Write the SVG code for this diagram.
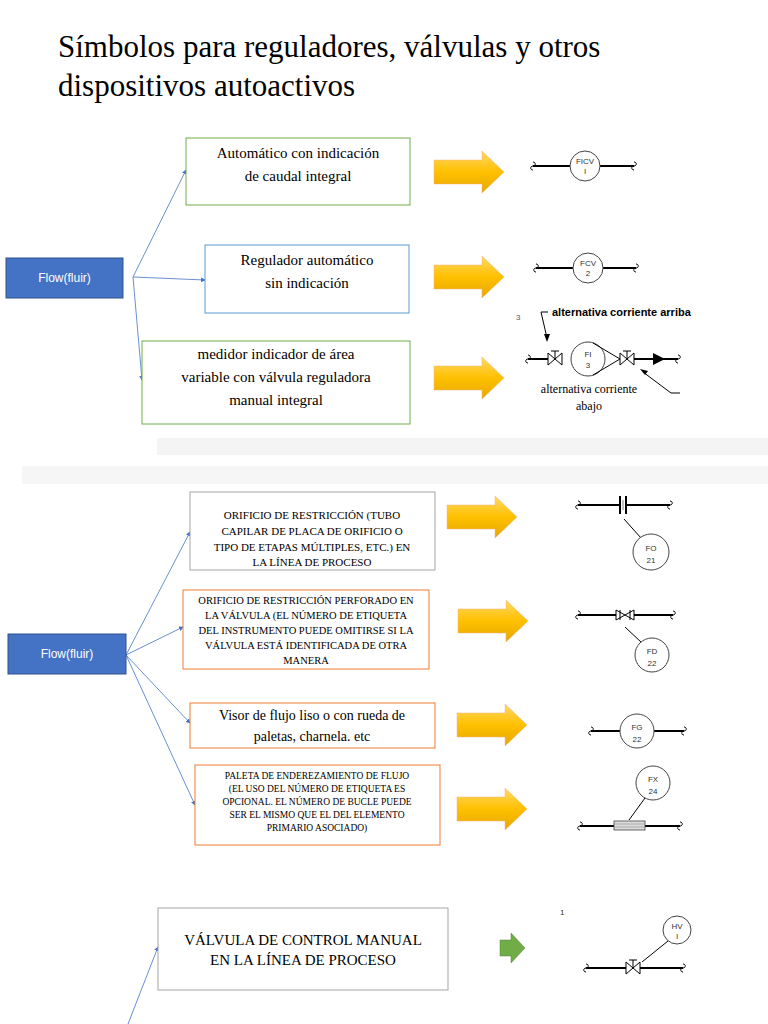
<svg xmlns="http://www.w3.org/2000/svg" width="768" height="1024" viewBox="0 0 768 1024">
<style>
.t{font-family:"Liberation Serif","Times New Roman",serif;fill:#000}
.s{font-family:"Liberation Sans",sans-serif}
.flow{fill:#4472C4;stroke:#2F528F;stroke-width:1}
.ft{font-family:"Liberation Sans",sans-serif;font-size:12px;fill:#fff}
.g{fill:#fff;stroke:#70AD47;stroke-width:1}
.b{fill:#fff;stroke:#5B9BD5;stroke-width:1}
.o{fill:#fff;stroke:#ED7D31;stroke-width:1}
.gr{fill:#fff;stroke:#A5A5A5;stroke-width:1}
.c{stroke:#4472C4;stroke-width:0.8;fill:none;marker-end:url(#ah)}
.p{stroke:#000;stroke-width:2;fill:none}
.pt{stroke:#000;stroke-width:1;fill:none}
.ci{fill:#fff;stroke:#444;stroke-width:1}
.ct{font-family:"Liberation Sans",sans-serif;font-size:8px;fill:#333}
</style>
<defs>
<marker id="ah" markerWidth="6" markerHeight="6" refX="5" refY="3" orient="auto"><path d="M0,0 L6,3 L0,6 z" fill="#4472C4"/></marker>
<linearGradient id="yg" x1="0" y1="0" x2="0" y2="1"><stop offset="0" stop-color="#FFD966"/><stop offset="0.5" stop-color="#FFC000"/><stop offset="1" stop-color="#E6A800"/></linearGradient>
<path id="ya" d="M0,-12 L48,-12 L48,-21 L70,0 L48,21 L48,12 L0,12 z" fill="url(#yg)" stroke="#F4B183" stroke-width="0.5"/>
<path id="sq" d="M0,-4 C3,-4 3,0 0,0 C-3,0 -3,4 0,4" fill="none" stroke="#000" stroke-width="1"/>
</defs>
<rect width="768" height="1024" fill="#fff"/>
<text class="t" x="58" y="57" font-size="31">Símbolos para reguladores, válvulas y otros</text>
<text class="t" x="58" y="96" font-size="31">dispositivos autoactivos</text>
<rect x="157" y="438" width="611" height="17" fill="#f4f4f4"/>
<rect x="22" y="466" width="746" height="18" fill="#f6f6f6"/>

<g id="connectors">
<line class="c" x1="133" y1="277" x2="186" y2="170"/>
<line class="c" x1="133" y1="277" x2="205" y2="280"/>
<line class="c" x1="133" y1="277" x2="142" y2="380"/>
<line class="c" x1="126" y1="655" x2="190" y2="532"/>
<line class="c" x1="126" y1="655" x2="183" y2="627"/>
<line class="c" x1="126" y1="655" x2="190" y2="723"/>
<line class="c" x1="126" y1="655" x2="195" y2="805"/>
<line class="c" x1="128" y1="1024" x2="158" y2="947"/>
</g>

<g id="flow1"><rect class="flow" x="6" y="258" width="117" height="40"/><text class="ft" x="64.5" y="282" text-anchor="middle">Flow(fluir)</text></g>
<g id="boxA"><rect class="g" x="186" y="138" width="224" height="67"/>
<text class="t" font-size="15" text-anchor="middle"><tspan x="298" y="158">Automático con indicación</tspan><tspan x="298" y="181">de caudal integral</tspan></text></g>
<g id="boxB"><rect class="b" x="205" y="245" width="204" height="68"/>
<text class="t" font-size="15" text-anchor="middle"><tspan x="307" y="265">Regulador automático</tspan><tspan x="307" y="288">sin indicación</tspan></text></g>
<g id="boxC"><rect class="g" x="142" y="341" width="268" height="83"/>
<text class="t" font-size="15" text-anchor="middle"><tspan x="276" y="359">medidor indicador de área</tspan><tspan x="276" y="382">variable con válvula reguladora</tspan><tspan x="276" y="405">manual integral</tspan></text></g>

<g id="arrows1">
<use href="#ya" x="434" y="172"/>
<use href="#ya" x="434" y="277"/>
<use href="#ya" x="434" y="378"/>
</g>

<g id="sym1">
<use href="#sq" x="533" y="166"/><line class="p" x1="533" y1="166" x2="570" y2="166"/><line class="p" x1="600" y1="166" x2="634" y2="166"/><use href="#sq" x="634" y="166"/>
<circle class="ci" cx="585" cy="166" r="15"/><text class="ct" x="585" y="164" text-anchor="middle">FICV</text><text class="ct" x="585" y="174" text-anchor="middle">I</text>
</g>
<g id="sym2">
<use href="#sq" x="536" y="268"/><line class="p" x1="536" y1="268" x2="573" y2="268"/><line class="p" x1="603" y1="268" x2="636" y2="268"/><use href="#sq" x="636" y="268"/>
<circle class="ci" cx="588" cy="268" r="15"/><text class="ct" x="588" y="266" text-anchor="middle">FCV</text><text class="ct" x="588" y="276" text-anchor="middle">2</text>
</g>
<g id="sym3">
<text class="s" x="516" y="320" font-size="8" fill="#555">3</text>
<text class="s" x="552" y="316" font-size="11" font-weight="bold">alternativa corriente arriba</text>
<path class="pt" d="M548,312 L541,312 L547,338"/><path d="M544,334 L547,342 L550,334 z"/>
<use href="#sq" x="528" y="359"/><line class="p" x1="528" y1="359" x2="548" y2="359"/>
<path class="pt" d="M548,353 L548,365 L562,353 L562,365 z M555,359 L555,351 M551,351 L559,351"/>
<circle class="ci" cx="588" cy="359" r="17"/><text class="ct" x="588" y="357" text-anchor="middle">FI</text><text class="ct" x="588" y="368" text-anchor="middle">3</text>
<path class="pt" d="M593,343 L620,359 L593,375"/>
<path class="pt" d="M620,353 L620,365 L634,353 L634,365 z M627,359 L627,351 M623,351 L631,351"/>
<line class="p" x1="634" y1="359" x2="678" y2="359"/><path d="M653,353 L665,359 L653,365 z"/><use href="#sq" x="678" y="359"/>
<path class="pt" d="M680,393 L671,393 L643,372"/><path d="M640,369 L648,371 L645,375 z"/>
<text class="t" x="589" y="393" font-size="12" text-anchor="middle" fill="#333">alternativa corriente</text>
<text class="t" x="589" y="410" font-size="12" text-anchor="middle" fill="#333">abajo</text>
</g>

<g id="flow2"><rect class="flow" x="8" y="634" width="118" height="40"/><text class="ft" x="67" y="658" text-anchor="middle">Flow(fluir)</text></g>
<g id="boxD1"><rect class="gr" x="190" y="492" width="245" height="78"/>
<text class="t" font-size="11" text-anchor="middle"><tspan x="312" y="519">ORIFICIO DE RESTRICCIÓN (TUBO</tspan><tspan x="312" y="535">CAPILAR DE PLACA DE ORIFICIO O</tspan><tspan x="312" y="551">TIPO DE ETAPAS MÚLTIPLES, ETC.) EN</tspan><tspan x="312" y="566">LA LÍNEA DE PROCESO</tspan></text></g>
<g id="boxD2"><rect class="o" x="183" y="590" width="246" height="79"/>
<text class="t" font-size="10.5" text-anchor="middle"><tspan x="306" y="604">ORIFICIO DE RESTRICCIÓN PERFORADO EN</tspan><tspan x="306" y="619">LA VÁLVULA (EL NÚMERO DE ETIQUETA</tspan><tspan x="306" y="634">DEL INSTRUMENTO PUEDE OMITIRSE SI LA</tspan><tspan x="306" y="649">VÁLVULA ESTÁ IDENTIFICADA DE OTRA</tspan><tspan x="306" y="664">MANERA</tspan></text></g>
<g id="boxD3"><rect class="o" x="190" y="703" width="245" height="45"/>
<text class="t" font-size="14" text-anchor="middle"><tspan x="312" y="720">Visor de flujo liso o con rueda de</tspan><tspan x="312" y="741">paletas, charnela. etc</tspan></text></g>
<g id="boxD4"><rect class="o" x="195" y="765" width="245" height="80"/>
<text class="t" font-size="9.5" text-anchor="middle"><tspan x="317" y="779">PALETA DE ENDEREZAMIENTO DE FLUJO</tspan><tspan x="317" y="792">(EL USO DEL NÚMERO DE ETIQUETA ES</tspan><tspan x="317" y="805">OPCIONAL. EL NÚMERO DE BUCLE PUEDE</tspan><tspan x="317" y="818">SER EL MISMO QUE EL DEL ELEMENTO</tspan><tspan x="317" y="831">PRIMARIO ASOCIADO)</tspan></text></g>

<g id="arrows2">
<use href="#ya" x="447" y="517"/>
<use href="#ya" x="458" y="621"/>
<use href="#ya" x="457" y="725"/>
<use href="#ya" x="457" y="809"/>
</g>

<g id="symFO">
<use href="#sq" x="578" y="505"/><line class="p" x1="578" y1="505" x2="620" y2="505"/><line class="p" x1="626" y1="505" x2="670" y2="505"/><use href="#sq" x="670" y="505"/>
<line x1="620" y1="496" x2="620" y2="514" stroke="#000" stroke-width="2"/><line x1="626" y1="496" x2="626" y2="514" stroke="#000" stroke-width="2"/><line x1="623" y1="500" x2="623" y2="510" stroke="#888" stroke-width="1"/>
<line class="pt" x1="624" y1="519" x2="641" y2="538"/>
<circle class="ci" cx="651" cy="552" r="18"/><text class="ct" x="651" y="551" text-anchor="middle" font-size="10">FO</text><text class="ct" x="651" y="563" text-anchor="middle" font-size="10">21</text>
</g>
<g id="symFD">
<use href="#sq" x="578" y="615"/><line class="p" x1="578" y1="615" x2="616" y2="615"/><line class="p" x1="634" y1="615" x2="673" y2="615"/><use href="#sq" x="673" y="615"/>
<path class="pt" d="M616,610 L616,620 L625,615 z M634,610 L634,620 L625,615 z M620,610 L620,620 M630,610 L630,620"/>
<line class="pt" x1="625" y1="627" x2="642" y2="643"/>
<circle class="ci" cx="652" cy="655" r="17"/><text class="ct" x="652" y="654" text-anchor="middle" font-size="10">FD</text><text class="ct" x="652" y="666" text-anchor="middle" font-size="10">22</text>
</g>
<g id="symFG">
<use href="#sq" x="591" y="731"/><line class="p" x1="591" y1="731" x2="620" y2="731"/><line class="p" x1="654" y1="731" x2="684" y2="731"/><use href="#sq" x="684" y="731"/>
<circle class="ci" cx="637" cy="731" r="17"/><text class="ct" x="637" y="730" text-anchor="middle" font-size="10">FG</text><text class="ct" x="637" y="742" text-anchor="middle" font-size="10">22</text>
</g>
<g id="symFX">
<circle class="ci" cx="653" cy="783" r="17"/><text class="ct" x="653" y="782" text-anchor="middle" font-size="10">FX</text><text class="ct" x="653" y="794" text-anchor="middle" font-size="10">24</text>
<line class="pt" x1="645" y1="798" x2="629" y2="820"/>
<use href="#sq" x="580" y="826"/><line class="p" x1="580" y1="826" x2="680" y2="826"/><use href="#sq" x="680" y="826"/>
<rect x="614" y="821" width="31" height="9" fill="#ddd" stroke="#444" stroke-width="0.8"/><line x1="614" y1="824" x2="645" y2="824" stroke="#888" stroke-width="0.6"/><line x1="614" y1="827" x2="645" y2="827" stroke="#888" stroke-width="0.6"/>
</g>

<g id="boxE"><rect class="gr" x="158" y="908" width="290" height="82"/>
<text class="t" font-size="15" text-anchor="middle"><tspan x="303" y="945">VÁLVULA DE CONTROL MANUAL</tspan><tspan x="303" y="965">EN LA LÍNEA DE PROCESO</tspan></text></g>
<g id="arrowE"><path d="M500,940 L511,940 L511,933 L525,948 L511,963 L511,956 L500,956 z" fill="#70AD47" stroke="#548235" stroke-width="0.5"/></g>
<g id="symHV">
<text class="s" x="560" y="915" font-size="8" fill="#333">1</text>
<circle class="ci" cx="677" cy="930" r="14"/><text class="ct" x="677" y="929" text-anchor="middle">HV</text><text class="ct" x="677" y="939" text-anchor="middle">I</text>
<line class="pt" x1="668" y1="941" x2="642" y2="962"/>
<use href="#sq" x="586" y="968"/><line class="p" x1="586" y1="968" x2="626" y2="968"/><line class="p" x1="640" y1="968" x2="683" y2="968"/><use href="#sq" x="683" y="968"/>
<path class="pt" d="M626,962 L626,974 L640,962 L640,974 z M633,968 L633,960 M629,960 L637,960"/>
</g>
</svg>
